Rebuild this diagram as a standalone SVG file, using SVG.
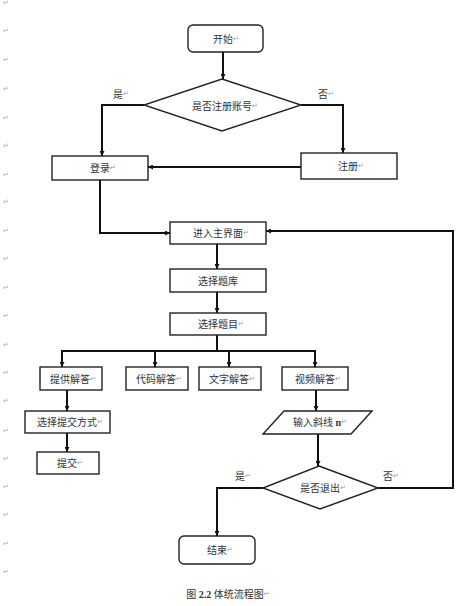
<svg xmlns="http://www.w3.org/2000/svg" width="474" height="606" viewBox="0 0 474 606">
<defs>
<style>
.bg{fill:#fff}
.box{fill:#fff;stroke:#222;stroke-width:1.4}
.ln{fill:none;stroke:#111;stroke-width:2}
.t{font-family:"Liberation Serif","Noto Sans CJK SC",serif;font-size:10px;fill:#333;text-anchor:middle;dominant-baseline:central}
.pm{font-family:"DejaVu Sans",sans-serif;font-size:7px;fill:#999}
.m{font-family:"DejaVu Sans",sans-serif;font-size:7px;fill:#aaa}
</style>
<marker id="ar" viewBox="0 0 10 10" refX="10" refY="5" markerWidth="5" markerHeight="5" markerUnits="userSpaceOnUse" orient="auto">
<path d="M0,0 L10,5 L0,10 Z" fill="#111"/>
</marker>
</defs>
<rect class="bg" x="0" y="0" width="474" height="606"/>
<g id="margin-marks">
<text class="m" x="3" y="5">↵</text>
<text class="m" x="3" y="33">↵</text>
<text class="m" x="3" y="62">↵</text>
<text class="m" x="3" y="91">↵</text>
<text class="m" x="3" y="120">↵</text>
<text class="m" x="3" y="148">↵</text>
<text class="m" x="3" y="177">↵</text>
<text class="m" x="3" y="204">↵</text>
<text class="m" x="3" y="233">↵</text>
<text class="m" x="3" y="261">↵</text>
<text class="m" x="3" y="290">↵</text>
<text class="m" x="3" y="318">↵</text>
<text class="m" x="3" y="347">↵</text>
<text class="m" x="3" y="375">↵</text>
<text class="m" x="3" y="403">↵</text>
<text class="m" x="3" y="433">↵</text>
<text class="m" x="3" y="461">↵</text>
<text class="m" x="3" y="489">↵</text>
<text class="m" x="3" y="517">↵</text>
<text class="m" x="3" y="546">↵</text>
<text class="m" x="3" y="574">↵</text>
</g>
<g id="connectors">
<path class="ln" d="M223,52 V79" marker-end="url(#ar)"/>
<path class="ln" d="M144,105 H102 V156" marker-end="url(#ar)"/>
<path class="ln" d="M301,105 H343 V153" marker-end="url(#ar)"/>
<path class="ln" d="M301,167 H148" marker-end="url(#ar)"/>
<path class="ln" d="M100,180 V233 H170" marker-end="url(#ar)"/>
<path class="ln" d="M217,244 V269" marker-end="url(#ar)"/>
<path class="ln" d="M217,292 V313" marker-end="url(#ar)"/>
<path class="ln" d="M217,335 V351"/>
<path class="ln" d="M62,351 H315"/>
<path class="ln" d="M62,350 V367" marker-end="url(#ar)"/>
<path class="ln" d="M155,350 V367" marker-end="url(#ar)"/>
<path class="ln" d="M229,350 V367" marker-end="url(#ar)"/>
<path class="ln" d="M315,350 V367" marker-end="url(#ar)"/>
<path class="ln" d="M67,390 V411" marker-end="url(#ar)"/>
<path class="ln" d="M67,433 V452" marker-end="url(#ar)"/>
<path class="ln" d="M316,390 V411" marker-end="url(#ar)"/>
<path class="ln" d="M318,434 V466" marker-end="url(#ar)"/>
<path class="ln" d="M263,488 H217 V536" marker-end="url(#ar)"/>
<path class="ln" d="M378,488 H453 V231 H266" marker-end="url(#ar)"/>
<text class="t" x="121" y="94">是<tspan class="pm">↵</tspan></text>
<text class="t" x="326" y="94">否<tspan class="pm">↵</tspan></text>
<text class="t" x="243" y="476">是<tspan class="pm">↵</tspan></text>
<text class="t" x="391" y="476">否<tspan class="pm">↵</tspan></text>
</g>
<g id="start">
<rect class="box" x="188" y="25" width="75" height="27" rx="5"/>
<text class="t" x="226" y="39">开始<tspan class="pm">↵</tspan></text>
</g>
<g id="decision-register">
<polygon class="box" points="222,79 301,105 222,131 144,105"/>
<text class="t" x="225" y="106">是否注册账号<tspan class="pm">↵</tspan></text>
</g>
<g id="login">
<rect class="box" x="52" y="156" width="96" height="24"/>
<text class="t" x="103" y="168">登录<tspan class="pm">↵</tspan></text>
</g>
<g id="register">
<rect class="box" x="301" y="153" width="96" height="26"/>
<text class="t" x="351" y="166">注册<tspan class="pm">↵</tspan></text>
</g>
<g id="main">
<rect class="box" x="170" y="222" width="96" height="22"/>
<text class="t" x="221" y="233">进入主界面<tspan class="pm">↵</tspan></text>
</g>
<g id="bank">
<rect class="box" x="170" y="269" width="96" height="23"/>
<text class="t" x="218" y="281">选择题库</text>
</g>
<g id="question">
<rect class="box" x="170" y="313" width="96" height="22"/>
<text class="t" x="221" y="324">选择题目<tspan class="pm">↵</tspan></text>
</g>
<g id="provide">
<rect class="box" x="40" y="367" width="62" height="23"/>
<text class="t" x="73" y="379">提供解答<tspan class="pm">↵</tspan></text>
</g>
<g id="code">
<rect class="box" x="126" y="367" width="62" height="23"/>
<text class="t" x="159" y="379">代码解答<tspan class="pm">↵</tspan></text>
</g>
<g id="text-answer">
<rect class="box" x="199" y="367" width="62" height="23"/>
<text class="t" x="232" y="379">文字解答<tspan class="pm">↵</tspan></text>
</g>
<g id="video">
<rect class="box" x="282" y="367" width="66" height="23"/>
<text class="t" x="318" y="379">视频解答<tspan class="pm">↵</tspan></text>
</g>
<g id="submit-mode">
<rect class="box" x="25" y="411" width="85" height="22"/>
<text class="t" x="70" y="422">选择提交方式<tspan class="pm">↵</tspan></text>
</g>
<g id="submit">
<rect class="box" x="37" y="452" width="62" height="22"/>
<text class="t" x="70" y="463">提交<tspan class="pm">↵</tspan></text>
</g>
<g id="input">
<polygon class="box" points="284,411 372,411 351,434 263,434"/>
<text class="t" x="320" y="422">输入斜线 <tspan font-weight="bold">n</tspan><tspan class="pm">↵</tspan></text>
</g>
<g id="decision-exit">
<polygon class="box" points="319,466 378,488 320,509 263,488"/>
<text class="t" x="323" y="488">是否退出<tspan class="pm">↵</tspan></text>
</g>
<g id="end">
<rect class="box" x="179" y="536" width="76" height="28" rx="5"/>
<text class="t" x="220" y="550">结束<tspan class="pm">↵</tspan></text>
</g>
<text class="t" x="228" y="594">图 <tspan font-weight="bold">2.2</tspan> 体统流程图<tspan class="pm">↵</tspan></text>
</svg>
